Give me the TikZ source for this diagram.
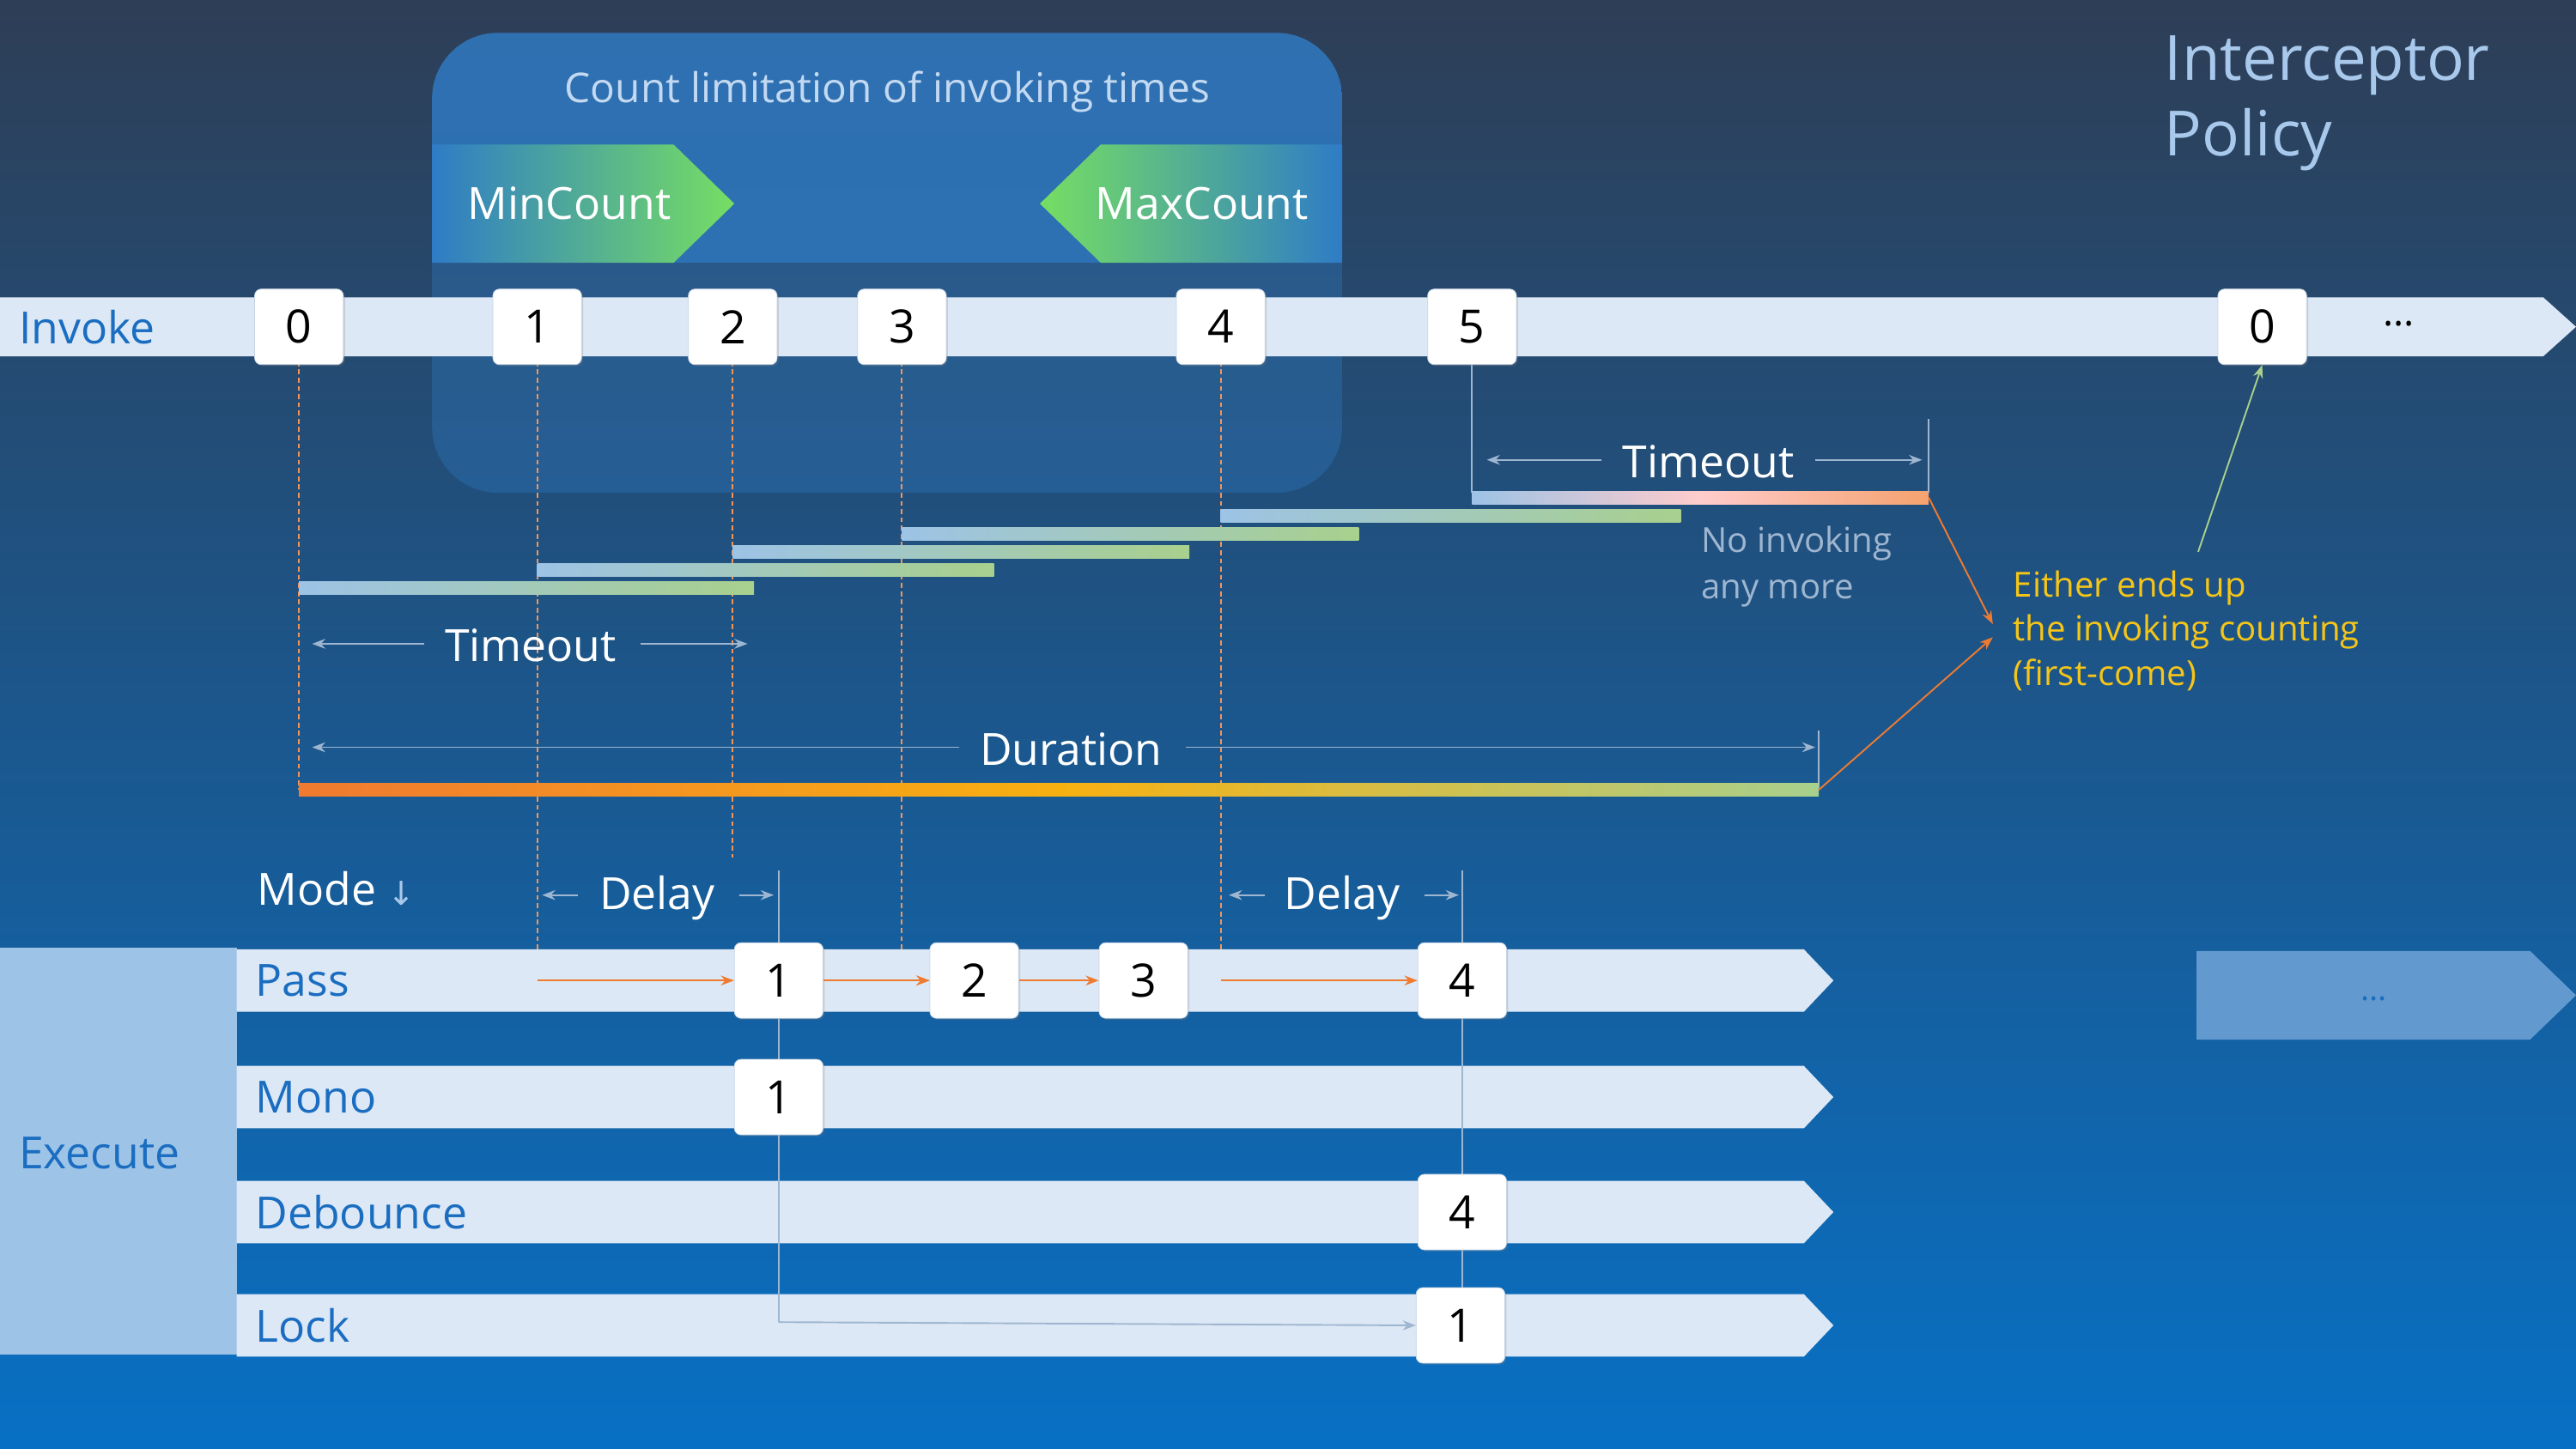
\documentclass[tikz,border=0pt]{standalone}
\usepackage{fontspec}
\setmainfont{Open Sans}
\usetikzlibrary{arrows.meta,shadows}
\definecolor{bgtop}{HTML}{2E3E56}
\definecolor{bgbot}{HTML}{0870C4}
\definecolor{band}{HTML}{DCE8F5}
\definecolor{btxt}{HTML}{1A6DC0}
\definecolor{orng}{HTML}{F07A30}
\definecolor{gbar}{HTML}{A8D08D}
\definecolor{bbar}{HTML}{9DC3E6}
\definecolor{ylw}{HTML}{F5C518}
\definecolor{lbl}{HTML}{A9C9EC}
\definecolor{grayl}{HTML}{9FB6D0}
\definecolor{hdr}{HTML}{2F7CC6}
\tikzset{
 box/.style={draw=grayl!60,fill=white,rounded corners=4pt,minimum width=54pt,minimum height=46pt,inner sep=0pt,font=\fontsize{28}{30}\selectfont,text=black,drop shadow={opacity=0.25,shadow xshift=1pt,shadow yshift=-1pt}},
 rowlbl/.style={anchor=west,font=\fontsize{27}{30}\selectfont,text=btxt},
 wlbl/.style={font=\fontsize{27}{30}\selectfont,text=white},
 dim/.style={draw=grayl,line width=1pt,-{Stealth[length=8pt]}},
 odash/.style={draw=orng!80,line width=1pt,densely dashed},
 oarr/.style={draw=orng,line width=1pt,-{Stealth[length=8pt]}},
}
\begin{document}
\begin{tikzpicture}[x=1pt,y=-1pt]
\useasboundingbox (0,0) rectangle (1568,882);
\shade[top color=bgtop,bottom color=bgbot] (0,0) rectangle (1568,882);
% count limitation box
\begin{scope}
\clip[rounded corners=40pt] (263,20) rectangle (817,300);
\fill[hdr,fill opacity=0.35] (263,20) rectangle (817,300);
\fill[hdr,fill opacity=0.7] (263,20) rectangle (817,160);
\end{scope}
\node[text=lbl!70!white,font=\fontsize{25}{28}\selectfont] (cl) at (540,56) {Count limitation of invoking times};
\shade[left color=hdr,right color=gbar!70!green] (263,88) -- (410,88) -- (447,124) -- (410,160) -- (263,160) -- cycle;
\shade[left color=gbar!70!green,right color=hdr] (817,88) -- (670,88) -- (633,124) -- (670,160) -- (817,160) -- cycle;
\node[wlbl,anchor=west] (minc) at (281,124) {MinCount};
\node[wlbl,anchor=east] (maxc) at (800,124) {MaxCount};
% invoke band
\fill[band] (0,181) -- (1548,181) -- (1568,199) -- (1548,217) -- (0,217) -- cycle;
\node[rowlbl] (inv) at (8,199) {Invoke};
% dashed lines
\coordinate (d0) at (182,481);
\draw[odash] (182,220) -- (d0);
\draw[odash] (327,220) -- (327,597);
\draw[odash] (446,220) -- (446,522);
\draw[odash] (549,220) -- (549,597);
\draw[odash] (743,220) -- (743,597);
\draw[draw=grayl,line width=1pt] (896,220) -- (896,300);
% invoke boxes
\foreach \x/\t/\n in {182/0/i0,327/1/i1,446/2/i2,549/3/i3,743/4/i4,896/5/i5,1377/0/i6}
 \node[box] (\n) at (\x,199) {\t};
\node[text=black,font=\fontsize{24}{26}\selectfont] (dots) at (1460,197) {...};
% timeout bars
\foreach \a/\b/\y in {182/459/358,327/605/347,446/724/336,549/827/325,743/1023/314}
 \shade[left color=bbar,right color=gbar] (\a,\y-4) rectangle (\b,\y+4);
\shade[left color=bbar,right color=orng!70!white,middle color=pink!80!white] (896,299) rectangle (1174,307);
% top timeout
\draw[draw=grayl,line width=1pt] (1174,255) -- (1174,300);
\node[wlbl] (to1) at (1040,281) {Timeout};
\coordinate (t1a) at (905,280); \coordinate (t1b) at (1170,280);
\draw[dim] (975,280) -- (t1a);
\draw[dim] (1105,280) -- (t1b);
\node[anchor=west,align=left,text=grayl,font=\fontsize{21}{28}\selectfont] (noinv) at (1032,345) {No invoking\\any more};
% lower timeout
\node[wlbl] (to2) at (323,393) {Timeout};
\coordinate (t2a) at (190,392); \coordinate (t2b) at (455,392);
\draw[dim] (258,392) -- (t2a);
\draw[dim] (390,392) -- (t2b);
% duration
\node[wlbl] (dur) at (652,456) {Duration};
\coordinate (dua) at (190,455); \coordinate (dub) at (1105,455);
\draw[dim] (584,455) -- (dua);
\draw[dim] (722,455) -- (dub);
\draw[draw=grayl,line width=1pt] (1107,445) -- (1107,480);
\shade[left color=orng,right color=gbar,middle color=ylw!70!orange] (182,477) rectangle (1107,485);
% either ends
\node[anchor=west,align=left,text=ylw,font=\fontsize{21}{27}\selectfont] (either) at (1222,384) {Either ends up\\the invoking counting\\(first-come)};
\coordinate (e1) at (1107,481); \coordinate (e2) at (1174,303);
\draw[oarr] (e1) -- (1213,388);
\draw[oarr] (e2) -- (1213,380);
\coordinate (g1) at (1338,336);
\draw[draw=gbar,line width=1pt,-{Stealth[length=8pt]}] (g1) -- (i6.south);
% interceptor policy
\node[anchor=north west,align=left,text=lbl,font=\fontsize{38}{46}\selectfont] (ip) at (1314,18) {Interceptor\\Policy};
% mode
\node[wlbl,anchor=west] (mode) at (153,541) {Mode {\fontspec{DejaVu Sans}\fontsize{20}{20}\selectfont\color{lbl}↓}};
% execute panel
\fill[bbar] (0,577) rectangle (144,825);
\node[rowlbl] (exe) at (8,702) {Execute};
\foreach \y/\t/\n in {597/Pass/rp,668/Mono/rm,738/Debounce/rd,807/Lock/rl}{
 \fill[band] (144,\y-19) -- (1098,\y-19) -- (1116,\y) -- (1098,\y+19) -- (144,\y+19) -- cycle;
 \node[rowlbl] (\n) at (152,\y) {\t};
}
% right dots block
\fill[bbar!70!btxt,fill opacity=0.8] (1337,579) -- (1540,579) -- (1568,606) -- (1540,633) -- (1337,633) -- cycle;
\node[text=btxt,font=\fontsize{20}{22}\selectfont] (rdots) at (1445,608) {...};
% delay
\draw[draw=grayl,line width=1pt] (474,530) -- (474,805);
\draw[draw=grayl,line width=1pt] (890,530) -- (890,790);
\node[wlbl] (dl1) at (400,547) {Delay};
\node[wlbl] (dl2) at (817,547) {Delay};
\coordinate (da1) at (330,545); \coordinate (db1) at (471,545);
\coordinate (da2) at (748,545); \coordinate (db2) at (888,545);
\draw[dim] (352,545) -- (da1); \draw[dim] (450,545) -- (db1);
\draw[dim] (770,545) -- (da2); \draw[dim] (867,545) -- (db2);
% execute boxes
\node[box] (p1) at (474,597) {1};
\node[box] (p2) at (593,597) {2};
\node[box] (p3) at (696,597) {3};
\node[box] (p4) at (890,597) {4};
\node[box] (m1) at (474,668) {1};
\node[box] (b4) at (890,738) {4};
\node[box] (l1) at (889,807) {1};
% connectors
\draw[oarr] (327,597) -- (p1.west);
\draw[oarr] (p1.east) -- (p2.west);
\draw[oarr] (549,597) -- (p2.west);
\draw[oarr] (p2.east) -- (p3.west);
\draw[oarr] (743,597) -- (p4.west);
\coordinate (lk) at (474,805);
\draw[draw=grayl,line width=1pt,-{Stealth[length=8pt]}] (lk) -- (l1.west);
\end{tikzpicture}
\end{document}
